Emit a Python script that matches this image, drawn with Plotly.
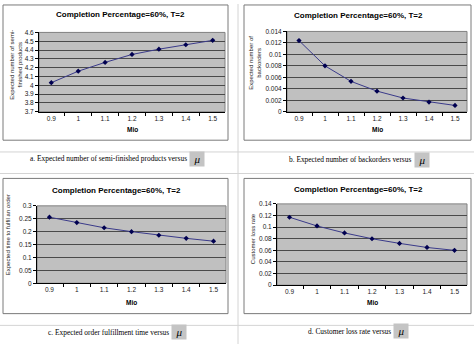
import plotly.graph_objects as go

W, H = 474, 347

# ---------------- data ----------------
mio = ["0.9", "1", "1.1", "1.2", "1.3", "1.4", "1.5"]
semi_finished = [4.03, 4.16, 4.26, 4.35, 4.41, 4.46, 4.51]
backorders = [0.0124, 0.0080, 0.0053, 0.0036, 0.0024, 0.0017, 0.0011]
fulfil_time = [0.256, 0.235, 0.215, 0.200, 0.186, 0.174, 0.163]
loss_rate = [0.117, 0.102, 0.090, 0.080, 0.072, 0.065, 0.060]

title_text = "Completion Percentage=60%, T=2"
y_titles = ["Expected number of semi-<br>finished products",
            "Expected number of<br>backorders",
            "Expected time to fulfil an order",
            "Customer loss rate"]
captions = ["a. Expected number of semi-finished products versus",
            "b. Expected number of backorders versus",
            "c. Expected order fulfillment time versus",
            "d. Customer loss rate versus"]
y_ticks = [
    [3.7, 3.8, 3.9, 4.0, 4.1, 4.2, 4.3, 4.4, 4.5, 4.6],
    [0, 0.002, 0.004, 0.006, 0.008, 0.01, 0.012, 0.014],
    [0, 0.05, 0.1, 0.15, 0.2, 0.25, 0.3],
    [0, 0.02, 0.04, 0.06, 0.08, 0.1, 0.12, 0.14],
]
y_ticktext = [
    ["3.7", "3.8", "3.9", "4", "4.1", "4.2", "4.3", "4.4", "4.5", "4.6"],
    ["0", "0.002", "0.004", "0.006", "0.008", "0.01", "0.012", "0.014"],
    ["0", "0.05", "0.1", "0.15", "0.2", "0.25", "0.3"],
    ["0", "0.02", "0.04", "0.06", "0.08", "0.1", "0.12", "0.14"],
]
series = [semi_finished, backorders, fulfil_time, loss_rate]

# ---------------- layout helpers (pixel geometry) ----------------
def px(x):
    return x / W

def py(y):
    return 1 - y / H

# plot areas: (x0, x1, ytop, ybottom)
plots = [(39, 225, 29, 110), (287, 467, 28, 110), (37, 226, 206, 285), (277, 467, 204, 287)]
boxes = [(3, 228, 1, 139), (244, 471, 1, 139), (3, 228, 178, 316), (244, 471, 178, 316)]
title_pos = [(120, 11), (358, 12), (116, 190), (358, 189)]
ytitle_pos = [(16, 62), (255, 60), (8, 236), (253, 240)]
mio_pos = [(132, 128), (377, 128), (131, 305), (372, 305)]
cap_end = [(189, 158), (413, 159), (171, 335), (393, 334)]
mu_pos = [(197, 158), (422, 159), (179, 335), (401, 334)]

fig = go.Figure()
shapes = []
annotations = []

SANS = "Liberation Sans, Arial, sans-serif"
SERIF = "Liberation Serif, Times New Roman, serif"

# page separators
shapes.append(dict(type="line", xref="paper", yref="paper", x0=px(238), x1=px(238), y0=0, y1=1,
                   line=dict(color="#d4d4d4", width=1), layer="below"))
for yy in (151, 173, 328):
    shapes.append(dict(type="line", xref="paper", yref="paper", x0=0, x1=1, y0=py(yy), y1=py(yy),
                       line=dict(color="#d4d4d4", width=1), layer="below"))

for i in range(4):
    n = "" if i == 0 else str(i + 1)
    x0, x1, yt, yb = plots[i]
    fig.add_trace(go.Scatter(
        x=mio, y=series[i], mode="lines+markers", xaxis="x" + n, yaxis="y" + n,
        line=dict(color="#3a3a8a", width=1),
        marker=dict(symbol="diamond", size=4, color="#000050"),
        showlegend=False, hoverinfo="x+y"))
    ymin, ymax = y_ticks[i][0], y_ticks[i][-1]
    fig.layout["xaxis" + n] = dict(
        domain=[px(x0), px(x1)], anchor="y" + n, type="category",
        tickson="boundaries", ticks="outside", ticklen=3, tickcolor="#000",
        showline=True, linecolor="#000", linewidth=1, showgrid=False,
        tickfont=dict(family=SANS, size=6.5, color="#222"), fixedrange=True)
    fig.layout["yaxis" + n] = dict(
        domain=[py(yb), py(yt)], anchor="x" + n, range=[ymin, ymax],
        tickvals=y_ticks[i], ticktext=y_ticktext[i],
        ticks="outside", ticklen=3, tickcolor="#000",
        showline=True, linecolor="#000", linewidth=1,
        showgrid=True, gridcolor="#4a4a4a", gridwidth=1, zeroline=False,
        tickfont=dict(family=SANS, size=6.5, color="#222"), fixedrange=True)

    # plot area bg
    shapes.append(dict(type="rect", xref="paper", yref="paper",
                       x0=px(x0), x1=px(x1), y0=py(yb), y1=py(yt),
                       fillcolor="#c0c0c0", line=dict(color="#808080", width=1), layer="below"))
    # chart box
    bx0, bx1, bt, bb = boxes[i]
    shapes.append(dict(type="rect", xref="paper", yref="paper",
                       x0=px(bx0), x1=px(bx1), y0=py(bb), y1=py(bt),
                       fillcolor="rgba(0,0,0,0)", line=dict(color="#7a7a7a", width=1), layer="below"))

    tx, ty = title_pos[i]
    annotations.append(dict(xref="paper", yref="paper", x=px(tx), y=py(ty), text="<b>" + title_text + "</b>",
                            showarrow=False, xanchor="center", yanchor="middle",
                            font=dict(family=SANS, size=8, color="#000")))
    ax, ay = ytitle_pos[i]
    annotations.append(dict(xref="paper", yref="paper", x=px(ax), y=py(ay), text=y_titles[i],
                            showarrow=False, textangle=-90, xanchor="center", yanchor="middle",
                            font=dict(family=SANS, size=6, color="#222")))
    mx, my = mio_pos[i]
    annotations.append(dict(xref="paper", yref="paper", x=px(mx), y=py(my), text="<b>Mio</b>",
                            showarrow=False, xanchor="center", yanchor="middle",
                            font=dict(family=SANS, size=6.5, color="#000")))
    cx, cy = cap_end[i]
    annotations.append(dict(xref="paper", yref="paper", x=px(cx), y=py(cy), text=captions[i],
                            showarrow=False, xanchor="right", yanchor="middle",
                            font=dict(family=SERIF, size=7.4, color="#000")))
    ux, uy = mu_pos[i]
    annotations.append(dict(xref="paper", yref="paper", x=px(ux), y=py(uy), text="<i>μ</i>",
                            showarrow=False, xanchor="center", yanchor="middle",
                            bgcolor="#c4c4c4", borderpad=1, width=12, height=12,
                            font=dict(family=SERIF, size=11, color="#000")))

fig.update_layout(width=W, height=H, margin=dict(l=0, r=0, t=0, b=0),
                  paper_bgcolor="#ffffff", plot_bgcolor="rgba(0,0,0,0)",
                  shapes=shapes, annotations=annotations)

fig.write_html("out.html", config={"displayModeBar": False})
